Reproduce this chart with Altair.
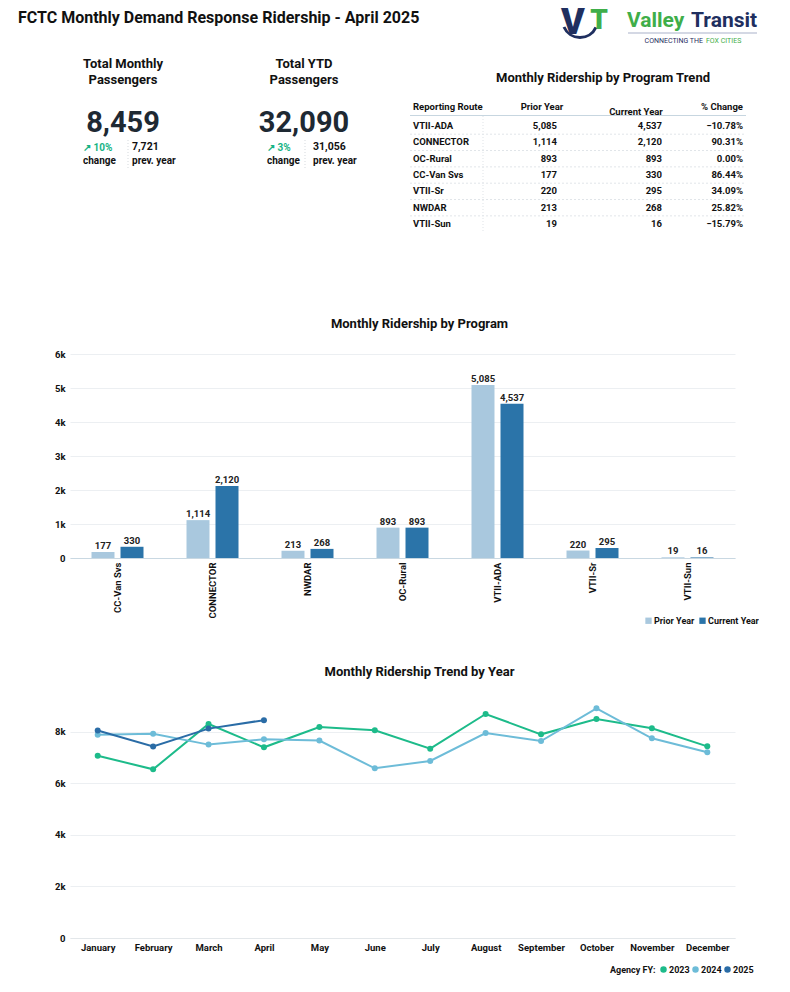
import altair as alt
import pandas as pd

FONT = "Roboto"
TITLE_FONT = "Liberation Sans Narrow, Roboto"
NAVY = "#1f2f5f"
LOGO_GREEN = "#3fae49"
KPI_GREEN = "#17b384"
INK = "#111111"
X0 = 70  # left edge of the plot areas on the page; header positions are given on the page

# ---------------- data ----------------
report_title = "FCTC Monthly Demand Response Ridership - April 2025"
kpi_title_top = ["Total Monthly", "Total YTD"]
kpi_title_bottom = ["Passengers", "Passengers"]
kpi_current = [8459, 32090]
kpi_prior = [7721, 31056]

table_title = "Monthly Ridership by Program Trend"
table_headers = ["Reporting Route", "Prior Year", "Current Year", "% Change"]

programs = ["CC-Van Svs", "CONNECTOR", "NWDAR", "OC-Rural", "VTII-ADA", "VTII-Sr", "VTII-Sun"]
prior_year = [177, 1114, 213, 893, 5085, 220, 19]
current_year = [330, 2120, 268, 893, 4537, 295, 16]
series_names = ["Prior Year", "Current Year"]

months = ["January", "February", "March", "April", "May", "June", "July",
          "August", "September", "October", "November", "December"]
fy_years = ["2023", "2024", "2025"]
riders_2023 = [7080, 6550, 8310, 7405, 8194, 8065, 7353, 8699, 7909, 8505, 8142, 7443]
riders_2024 = [7890, 7935, 7510, 7721, 7665, 6590, 6874, 7960, 7650, 8920, 7754, 7210]
riders_2025 = [8060, 7440, 8131, 8459]

bar_title = "Monthly Ridership by Program"
line_title = "Monthly Ridership Trend by Year"

# ---------------- tables for the library ----------------
one = pd.DataFrame({"k": [0]})

tbl = pd.DataFrame({"route": programs, "prior": prior_year, "current": current_year})
tbl["pct"] = (tbl["current"] - tbl["prior"]) / tbl["prior"]
tbl = tbl.sort_values("current", ascending=False).reset_index(drop=True)
route_order = list(tbl["route"])
tbl_sep = tbl.iloc[:-1]

bar_df = pd.DataFrame({
    "program": programs * 2,
    "series": [series_names[0]] * len(programs) + [series_names[1]] * len(programs),
    "value": prior_year + current_year,
})

line_df = pd.DataFrame({
    "month": months + months + months[:len(riders_2025)],
    "year": [fy_years[0]] * 12 + [fy_years[1]] * 12 + [fy_years[2]] * len(riders_2025),
    "value": riders_2023 + riders_2024 + riders_2025,
})


def T(s, x, y, size, color=INK, align="left", weight="bold", font=FONT, baseline="middle"):
    return alt.Chart(one).mark_text(
        text=s, fontSize=size, color=color, align=align, fontWeight=weight,
        font=font, baseline=baseline
    ).encode(x=alt.value(x - X0), y=alt.value(y))


def R(x, x2, y, y2, color="#dfe5ea", width=1, dash=None, opacity=1):
    kw = {}
    if dash:
        kw["strokeDash"] = dash
    return alt.Chart(one).mark_rule(color=color, strokeWidth=width, strokeOpacity=opacity, **kw).encode(
        x=alt.value(x - X0), x2=alt.value(x2 - X0), y=alt.value(y), y2=alt.value(y2))


layers = []
# invisible anchor at the page's left/top edge
layers.append(R(0, 1, 1, 1, opacity=0))
# report title
layers.append(T(report_title, 18, 18, 16, font=TITLE_FONT))

# logo
layers.append(alt.Chart(one).mark_arc(color=NAVY).encode(
    x=alt.value(580 - X0), y=alt.value(20), theta=alt.value(2.0), theta2=alt.value(4.3),
    radius=alt.value(19), radius2=alt.value(16)))
layers.append(T("V", 573, 23, 36, color=NAVY, align="center", weight=900))
layers.append(T("T", 599, 21, 28, color=LOGO_GREEN, align="center", weight=900))
layers.append(T("Valley", 627, 27, 21, color=LOGO_GREEN, baseline="alphabetic"))
layers.append(T("Transit", 691, 27, 21, color=NAVY, baseline="alphabetic"))
layers.append(R(628, 757, 33, 33, color="#a9b1c9"))
layers.append(T("CONNECTING THE", 703, 41, 7, color=NAVY, align="right", weight="normal"))
layers.append(T("FOX CITIES", 706, 41, 7, color=LOGO_GREEN, weight="normal"))

# KPI cards
kpi_cx = [123, 304]
kpi_left = [83, 267]
kpi_right = [132, 313]
kpi_sep = [128, 305]
for i in range(2):
    pct = round((kpi_current[i] - kpi_prior[i]) / kpi_prior[i] * 100)
    layers.append(T(kpi_title_top[i], kpi_cx[i], 64, 13, align="center"))
    layers.append(T(kpi_title_bottom[i], kpi_cx[i], 80, 13, align="center"))
    layers.append(T(f"{kpi_current[i]:,}", kpi_cx[i], 123, 29, color="#1e2933", align="center"))
    layers.append(T(f"\u2197 {pct}%", kpi_left[i], 148, 10, color=KPI_GREEN))
    layers.append(T("change", kpi_left[i], 160.5, 10))
    layers.append(T(f"{kpi_prior[i]:,}", kpi_right[i], 147, 10.5))
    layers.append(T("prev. year", kpi_right[i], 160.5, 10))
    layers.append(R(kpi_sep[i], kpi_sep[i], 140, 168, color="#d5d9dd", dash=[1, 2]))

# table
layers.append(T(table_title, 603, 78, 13, align="center"))
layers.append(T(table_headers[0], 413, 107, 9.5))
layers.append(T(table_headers[1], 542, 107, 9.5, align="center"))
layers.append(T(table_headers[2], 636, 112, 9.5, align="center"))
layers.append(T(table_headers[3], 743, 107, 9.5, align="right"))
layers.append(R(410, 746, 115.5, 115.5, color="#c7d6e0"))
layers.append(R(483, 483, 116, 232, color="#dfe3e7", dash=[1, 2]))

Y_route = alt.Y("route:N", sort=route_order,
                scale=alt.Scale(type="point", range=[126, 224], padding=0), axis=None)
tbase = alt.Chart(tbl)
tstyle = dict(fontSize=9.5, fontWeight="bold", color=INK, font=FONT)
layers.append(alt.Chart(tbl_sep).mark_rule(color="#e1e5e9", strokeDash=[2, 2], yOffset=8.2).encode(
    y=Y_route, x=alt.value(410 - X0), x2=alt.value(746 - X0)))
layers.append(tbase.mark_text(align="left", **tstyle).encode(
    x=alt.value(413 - X0), y=Y_route, text="route:N"))
layers.append(tbase.mark_text(align="right", **tstyle).encode(
    x=alt.value(557 - X0), y=Y_route, text=alt.Text("prior:Q", format=",")))
layers.append(tbase.mark_text(align="right", **tstyle).encode(
    x=alt.value(662 - X0), y=Y_route, text=alt.Text("current:Q", format=",")))
layers.append(tbase.mark_text(align="right", **tstyle).encode(
    x=alt.value(743 - X0), y=Y_route, text=alt.Text("pct:Q", format=".2%")))

header = alt.layer(*layers).properties(width=665, height=278)

ZERO_LABEL = "datum.value === 0 ? '0' : datum.label"

# ---------------- bar chart ----------------
x_bar = alt.X("program:N", sort=programs,
              scale=alt.Scale(paddingInner=0.4526, paddingOuter=0.2263),
              axis=alt.Axis(title=None, labelAngle=-90, labelFontSize=9.5, labelFontWeight="bold",
                            labelColor=INK, ticks=False, domainColor="#c9d8e2", labelPadding=4))
xo_bar = alt.XOffset("series:N", sort=series_names, scale=alt.Scale(paddingInner=0.207))
y_bar = alt.Y("value:Q", scale=alt.Scale(domain=[0, 6000], nice=False),
              axis=alt.Axis(title=None, values=[0, 1000, 2000, 3000, 4000, 5000, 6000], format="~s",
                            labelExpr=ZERO_LABEL,
                            grid=True, gridColor="#eceff2", domain=False, ticks=False,
                            labelFontSize=9.5, labelFontWeight="bold", labelColor=INK, labelPadding=5))

bars = alt.Chart(bar_df).mark_bar().encode(
    x=x_bar, xOffset=xo_bar, y=y_bar,
    color=alt.Color("series:N", sort=series_names,
                    scale=alt.Scale(domain=series_names, range=["#a9c8de", "#2b74a9"]),
                    legend=alt.Legend(title=None, orient="none", legendX=574, legendY=262,
                                      direction="horizontal", symbolType="square", symbolSize=40,
                                      labelFontSize=9, labelFontWeight="bold", labelColor=INK,
                                      columnPadding=3, labelOffset=1, padding=0)))
bar_labels = alt.Chart(bar_df).mark_text(dy=-6, fontSize=9.5, fontWeight="bold", color="#222222").encode(
    x=x_bar, xOffset=xo_bar, y=y_bar, text=alt.Text("value:Q", format=","))

bar_chart = alt.layer(bars, bar_labels).properties(
    width=665, height=204,
    title=alt.TitleParams(bar_title, anchor="middle", frame="group", dx=17, offset=18, fontSize=13))

# ---------------- line chart ----------------
line = alt.Chart(line_df).mark_line(point=alt.OverlayMarkDef(size=36, filled=True), strokeWidth=2).encode(
    x=alt.X("month:N", sort=months, scale=alt.Scale(type="point", padding=0.5),
            axis=alt.Axis(title=None, labelAngle=0, ticks=False, domainColor="#e3e7ea",
                          labelFontSize=9.5, labelFontWeight="bold", labelColor=INK, labelPadding=4)),
    y=alt.Y("value:Q", scale=alt.Scale(domain=[0, 9320], nice=False),
            axis=alt.Axis(title=None, values=[0, 2000, 4000, 6000, 8000], format="~s",
                          labelExpr=ZERO_LABEL,
                          grid=True, gridColor="#eceff2", domain=False, ticks=False,
                          labelFontSize=9.5, labelFontWeight="bold", labelColor=INK, labelPadding=5)),
    color=alt.Color("year:N", sort=fy_years,
                    scale=alt.Scale(domain=fy_years, range=["#1dbb8a", "#6dbcd8", "#2a6ca6"]),
                    legend=alt.Legend(title="Agency FY:", titleOrient="left", orient="none",
                                      legendX=540, legendY=267, direction="horizontal",
                                      symbolType="circle", symbolSize=25, labelFontSize=9,
                                      labelFontWeight="bold", labelColor=INK, titleFontSize=9,
                                      titleFontWeight="bold", titleColor=INK, columnPadding=0,
                                      labelOffset=1, padding=0, titlePadding=3)),
    order=alt.Order("year:N"),
)

line_chart = line.properties(
    width=665, height=240,
    title=alt.TitleParams(line_title, anchor="middle", frame="group", dx=17, offset=19, fontSize=13))

chart = alt.vconcat(header, bar_chart, line_chart, spacing=40).resolve_scale(
    color="independent"
).properties(
    padding={"left": 0, "top": 0, "right": 0, "bottom": 0}
).configure(font=FONT).configure_view(stroke=None).configure_title(
    font=FONT, fontWeight="bold", color=INK
).configure_axis(labelFont=FONT).configure_legend(labelFont=FONT, titleFont=FONT)

chart.save("out.html", embed_options={"renderer": "svg", "actions": False})
